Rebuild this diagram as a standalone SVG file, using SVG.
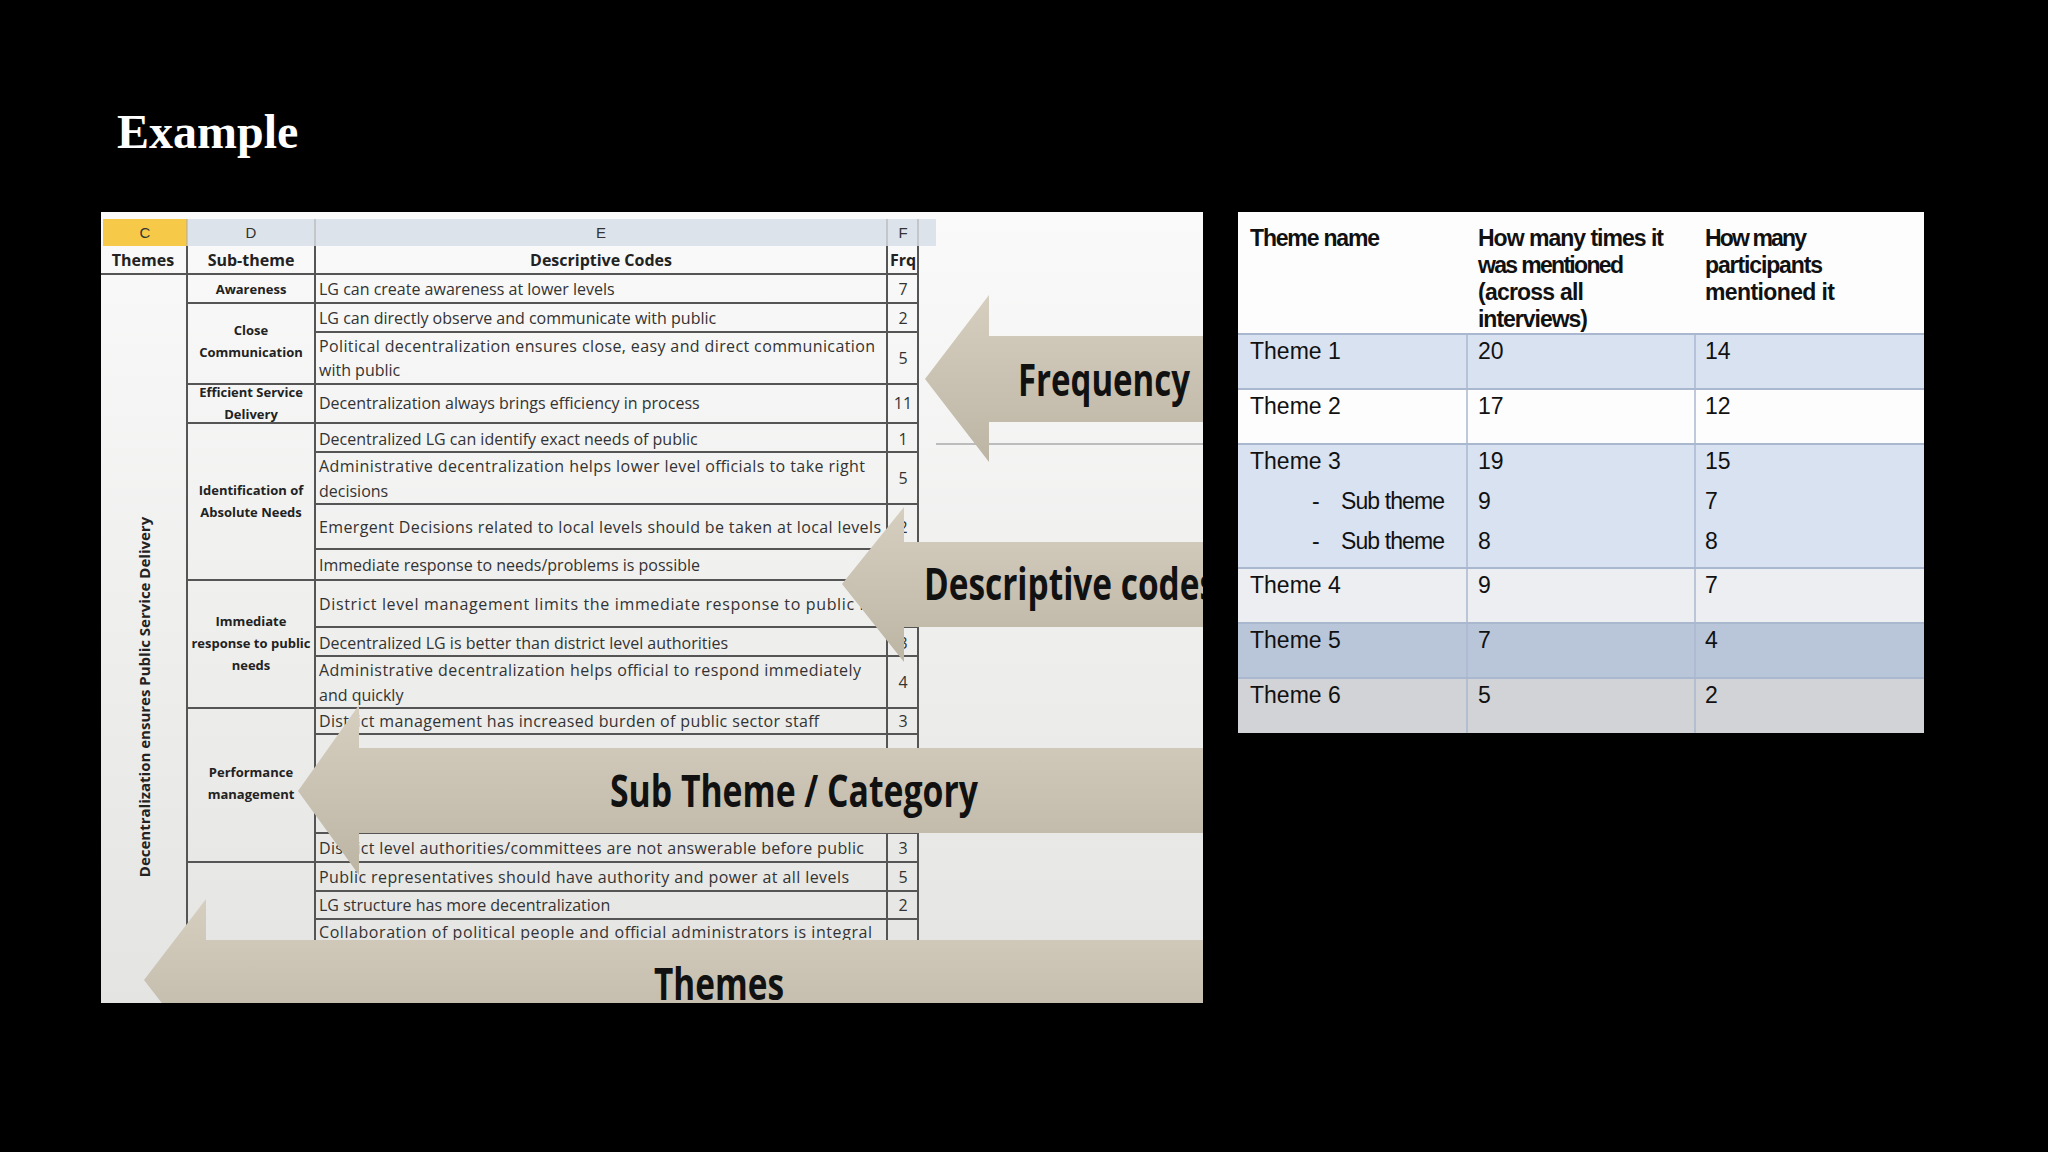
<svg xmlns="http://www.w3.org/2000/svg" width="2048" height="1152" viewBox="0 0 2048 1152">
<defs>
<linearGradient id="bg" x1="0" y1="0" x2="0" y2="1"><stop offset="0" stop-color="#fafafa"/><stop offset="1" stop-color="#e4e4e2"/></linearGradient>
<linearGradient id="arr" x1="0" y1="0" x2="0" y2="1"><stop offset="0" stop-color="#d6cfc0"/><stop offset="1" stop-color="#bdb5a4"/></linearGradient>
<clipPath id="clip"><rect x="101" y="212" width="1102" height="791"/></clipPath>
</defs>
<style>
.c{font-family:"Open Sans","Liberation Sans",sans-serif;font-size:16px;fill:#333}
.s{font-family:"Open Sans","Liberation Sans",sans-serif;font-size:13px;fill:#222;font-weight:bold;text-anchor:middle}
.h{font-family:"Open Sans","Liberation Sans",sans-serif;font-size:16px;fill:#222;font-weight:bold;text-anchor:middle}
.n{font-family:"Open Sans","Liberation Sans",sans-serif;font-size:16px;fill:#333;text-anchor:middle}
.g{stroke:#555;stroke-width:2;fill:none}
.al{font-family:"Open Sans","Liberation Sans",sans-serif;font-size:44px;font-weight:bold;fill:#111}
.t{font-family:"Liberation Sans",Arial,sans-serif;font-size:23px;fill:#111}
.tb{font-family:"Liberation Sans",Arial,sans-serif;font-size:23px;fill:#111;font-weight:bold}
</style>
<rect width="2048" height="1152" fill="#000"/>
<text x="117" y="148" font-family="Liberation Serif,serif" font-weight="bold" font-size="48" fill="#fff">Example</text>
<g id="spreadsheet" clip-path="url(#clip)">
<rect x="101" y="212" width="1102" height="791" fill="url(#bg)"/>
<rect x="103" y="219" width="84" height="27" fill="#f7c948"/>
<rect x="187" y="219" width="749" height="27" fill="#dde3ea"/>
<g font-family="Liberation Sans,sans-serif" font-size="15" fill="#333" text-anchor="middle">
<text x="145" y="238">C</text><text x="251" y="238">D</text><text x="601" y="238">E</text><text x="903" y="238">F</text></g>
<text class="h" x="143" y="266">Themes</text><text class="h" x="251" y="266">Sub-theme</text><text class="h" x="601" y="266">Descriptive Codes</text><text class="h" x="903" y="266">Frq</text>
<path class="g" d="M187 246V940M315 246V940M887 246V940M918 246V940M101 274H918M187 303H918M315 332H918M187 384H918M187 423H918M315 452H918M315 504H918M315 549H918M187 580H918M315 627H918M315 656H918M187 708H918M315 734H918M315 833H918M187 862H918M315 891H918M315 919H918"/>
<path d="M187 246V219M315 246V219M887 246V219M918 246V219" stroke="#aaa"/>
<text class="s" x="251" y="294">Awareness</text>
<text class="s" x="251" y="335">Close</text><text class="s" x="251" y="357">Communication</text>
<text class="s" x="251" y="397">Efficient Service</text><text class="s" x="251" y="419">Delivery</text>
<text class="s" x="251" y="495">Identification of</text><text class="s" x="251" y="517">Absolute Needs</text>
<text class="s" x="251" y="626">Immediate</text><text class="s" x="251" y="648">response to public</text><text class="s" x="251" y="670">needs</text>
<text class="s" x="251" y="777">Performance</text><text class="s" x="251" y="799">management</text>
<text transform="translate(150,697) rotate(-90)" font-family="Open Sans,Liberation Sans,sans-serif" font-size="15" font-weight="bold" fill="#222" text-anchor="middle">Decentralization ensures Public Service Delivery</text>
<g class="c">
<text x="319" y="295">LG can create awareness at lower levels</text>
<text x="319" y="324">LG can directly observe and communicate with public</text>
<text x="319" y="352" textLength="556">Political decentralization ensures close, easy and direct communication</text>
<text x="319" y="376">with public</text>
<text x="319" y="409">Decentralization always brings efficiency in process</text>
<text x="319" y="445">Decentralized LG can identify exact needs of public</text>
<text x="319" y="472" textLength="546">Administrative decentralization helps lower level officials to take right</text>
<text x="319" y="497">decisions</text>
<text x="319" y="533" textLength="562">Emergent Decisions related to local levels should be taken at local levels</text>
<text x="319" y="571">Immediate response to needs/problems is possible</text>
<text x="319" y="610" textLength="560">District level management limits the immediate response to public ne</text>
<text x="319" y="649">Decentralized LG is better than district level authorities</text>
<text x="319" y="676" textLength="542">Administrative decentralization helps official to respond immediately</text>
<text x="319" y="701">and quickly</text>
<text x="319" y="727" textLength="500">District management has increased burden of public sector staff</text>
<text x="319" y="854" textLength="545">District level authorities/committees are not answerable before public</text>
<text x="319" y="883" textLength="530">Public representatives should have authority and power at all levels</text>
<text x="319" y="911">LG structure has more decentralization</text>
<text x="319" y="938" textLength="553">Collaboration of political people and official administrators is integral</text>
</g>
<g class="n"><text x="903" y="295">7</text><text x="903" y="324">2</text><text x="903" y="364">5</text><text x="903" y="409">11</text><text x="903" y="445">1</text><text x="903" y="484">5</text><text x="903" y="533">2</text><text x="903" y="649">3</text><text x="903" y="688">4</text><text x="903" y="727">3</text><text x="903" y="854">3</text><text x="903" y="883">5</text><text x="903" y="911">2</text></g>
<path d="M936 444H1203" stroke="#aaa" stroke-width="1.5"/>
<g id="arrow-frequency"><path d="M925 379L989 295V336H1203V422H989V462Z" fill="url(#arr)"/><text class="al" x="1018" y="396" textLength="172" lengthAdjust="spacingAndGlyphs">Frequency</text></g>
<g id="arrow-codes"><path d="M842 584L904 507V542H1203V627H904V662Z" fill="url(#arr)"/><text class="al" x="924" y="600" textLength="292" lengthAdjust="spacingAndGlyphs">Descriptive codes</text></g>
<g id="arrow-subtheme"><path d="M298 791L359 705V748H1203V833H359V875Z" fill="url(#arr)"/><text class="al" x="610" y="807" textLength="368" lengthAdjust="spacingAndGlyphs">Sub Theme / Category</text></g>
<g id="arrow-themes"><path d="M144 980L206 899V940H1203V1060H206Z" fill="url(#arr)"/><text class="al" x="654" y="1000" textLength="130" lengthAdjust="spacingAndGlyphs">Themes</text></g>
</g>
<g id="summary-table">
<rect x="1238" y="212" width="686" height="122" fill="#fdfdfd"/>
<rect x="1238" y="334" width="686" height="55" fill="#d9e2f1"/>
<rect x="1238" y="389" width="686" height="55" fill="#fdfdfd"/>
<rect x="1238" y="444" width="686" height="124" fill="#d9e2f1"/>
<rect x="1238" y="568" width="686" height="55" fill="#eceef1"/>
<rect x="1238" y="623" width="686" height="55" fill="#b9c6da"/>
<rect x="1238" y="678" width="686" height="55" fill="#d2d3d6"/>
<path d="M1238 334H1924M1238 389H1924M1238 444H1924M1238 568H1924M1238 623H1924M1238 678H1924" stroke="#aab8cf" stroke-width="2"/>
<path d="M1467 334V733M1695 334V733" stroke="#aab8cf" stroke-width="1.5"/>
<g class="tb">
<text x="1250" y="246" textLength="130">Theme name</text>
<text x="1478" y="246" textLength="186">How many times it</text><text x="1478" y="273" textLength="146">was mentioned</text><text x="1478" y="300" textLength="106">(across all</text><text x="1478" y="327" textLength="110">interviews)</text>
<text x="1705" y="246" textLength="102">How many</text><text x="1705" y="273" textLength="118">participants</text><text x="1705" y="300" textLength="130">mentioned it</text>
</g>
<g class="t">
<text x="1250" y="359">Theme 1</text><text x="1478" y="359">20</text><text x="1705" y="359">14</text>
<text x="1250" y="414">Theme 2</text><text x="1478" y="414">17</text><text x="1705" y="414">12</text>
<text x="1250" y="469">Theme 3</text><text x="1478" y="469">19</text><text x="1705" y="469">15</text>
<text x="1312" y="509">-</text><text x="1341" y="509" textLength="104">Sub theme</text><text x="1478" y="509">9</text><text x="1705" y="509">7</text>
<text x="1312" y="549">-</text><text x="1341" y="549" textLength="104">Sub theme</text><text x="1478" y="549">8</text><text x="1705" y="549">8</text>
<text x="1250" y="593">Theme 4</text><text x="1478" y="593">9</text><text x="1705" y="593">7</text>
<text x="1250" y="648">Theme 5</text><text x="1478" y="648">7</text><text x="1705" y="648">4</text>
<text x="1250" y="703">Theme 6</text><text x="1478" y="703">5</text><text x="1705" y="703">2</text>
</g>
</g>
</svg>
